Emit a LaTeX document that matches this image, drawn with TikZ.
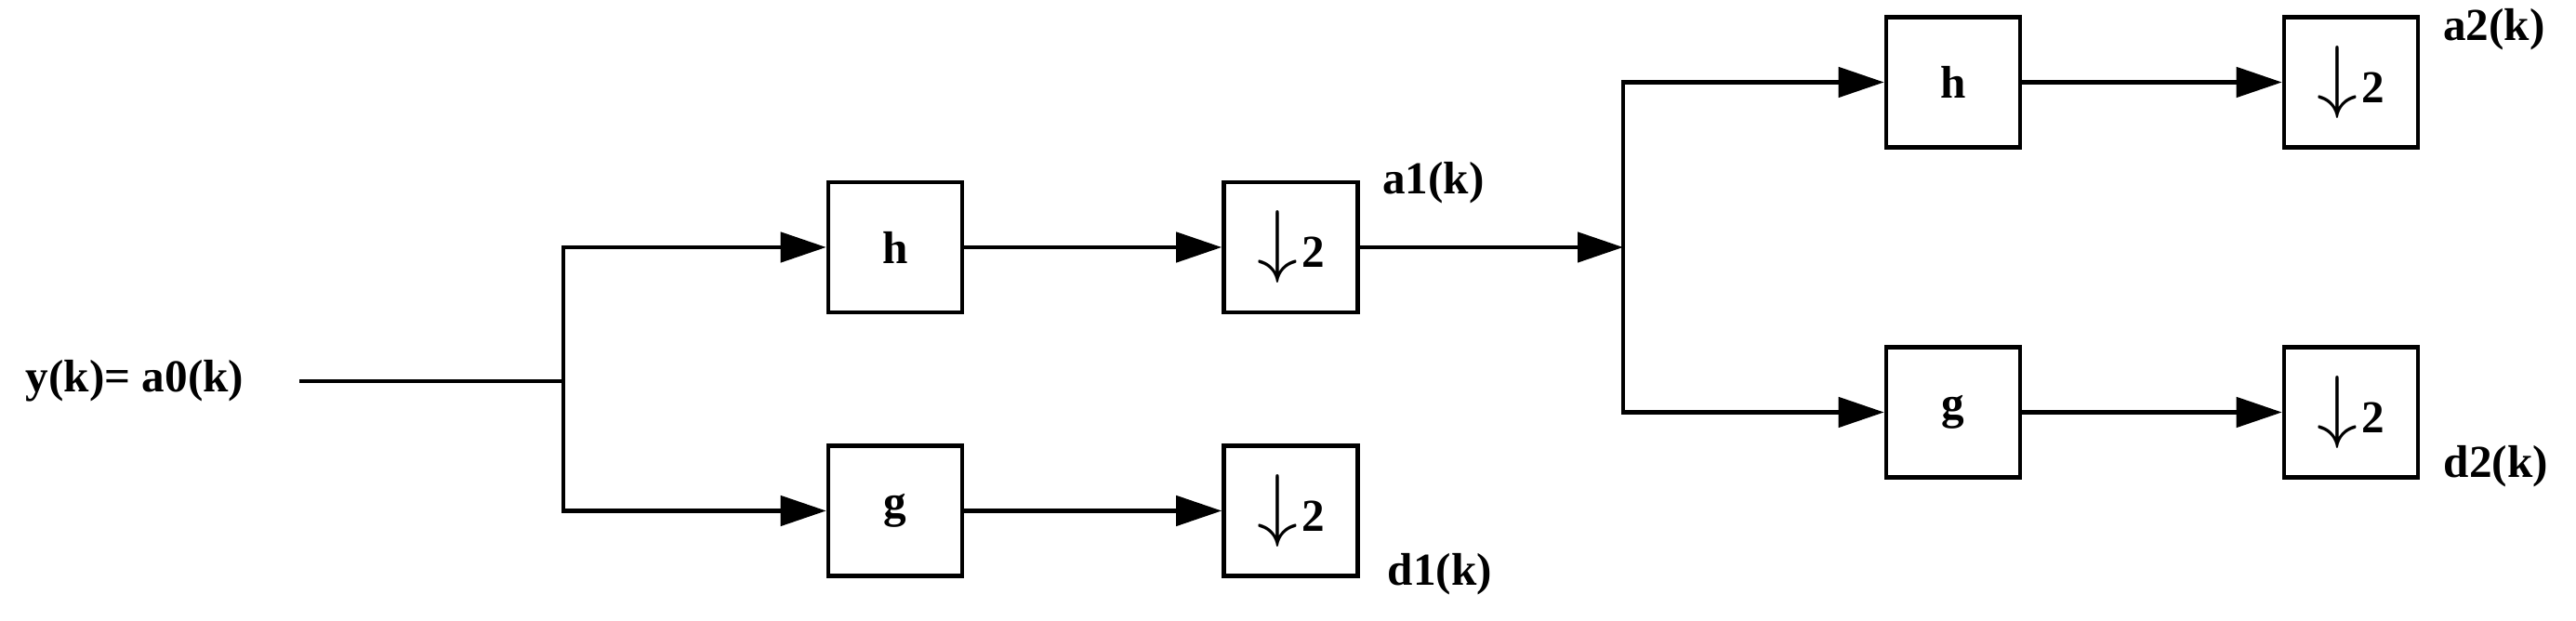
\documentclass[tikz,border=0pt]{standalone}
\usepackage{fontspec}
\setmainfont{Liberation Serif}
\usetikzlibrary{arrows.meta}
\newcommand{\downtwo}{\resizebox*{!}{0.78cm}{$\downarrow$}\hspace{0.04cm}2}

\begin{document}
\begin{tikzpicture}[
  box/.style={draw,line width=1.3pt,minimum width=1.44cm,minimum height=1.40cm,inner sep=0pt,font=\bfseries\fontsize{14}{16}\selectfont},
  wire/.style={line width=1.3pt},
  flow/.style={wire,-{Triangle[length=4.9mm,width=3.2mm]}},
  lbl/.style={font=\bfseries\fontsize{14}{16}\selectfont}
]
\useasboundingbox (0,0) rectangle (27.71,6.68);

% level 1
\node[lbl] (in) at (1.45,2.58) {y(k)= a0(k)};
\coordinate (start) at (3.22,2.58);
\coordinate (split1) at (6.06,2.58);
\node[box] (h1) at (9.63,4.02) {h};
\node[box] (g1) at (9.63,1.185) {g};
\node[box] (ds1) at (13.885,4.02) {\downtwo};
\node[box] (ds2) at (13.885,1.185) {\downtwo};
\node[lbl] (a1) at (15.42,4.71) {a1(k)};
\node[lbl] (d1) at (15.49,0.50) {d1(k)};

% level 2
\coordinate (split2) at (17.46,4.02);
\node[box] (h2) at (21.01,5.795) {h};
\node[box] (g2) at (21.01,2.245) {g};
\node[box] (ds3) at (25.29,5.795) {\downtwo};
\node[box] (ds4) at (25.29,2.245) {\downtwo};
\node[lbl] (a2) at (26.83,6.36) {a2(k)};
\node[lbl] (d2) at (26.85,1.66) {d2(k)};

\draw[wire] (start) -- (split1);
\draw[flow] (split1) |- (h1.west);
\draw[flow] (split1) |- (g1.west);
\draw[flow] (h1) -- (ds1);
\draw[flow] (g1) -- (ds2);
\draw[flow] (ds1) -- (split2);
\draw[flow] (split2) |- (h2.west);
\draw[flow] (split2) |- (g2.west);
\draw[flow] (h2) -- (ds3);
\draw[flow] (g2) -- (ds4);
\end{tikzpicture}
\end{document}
